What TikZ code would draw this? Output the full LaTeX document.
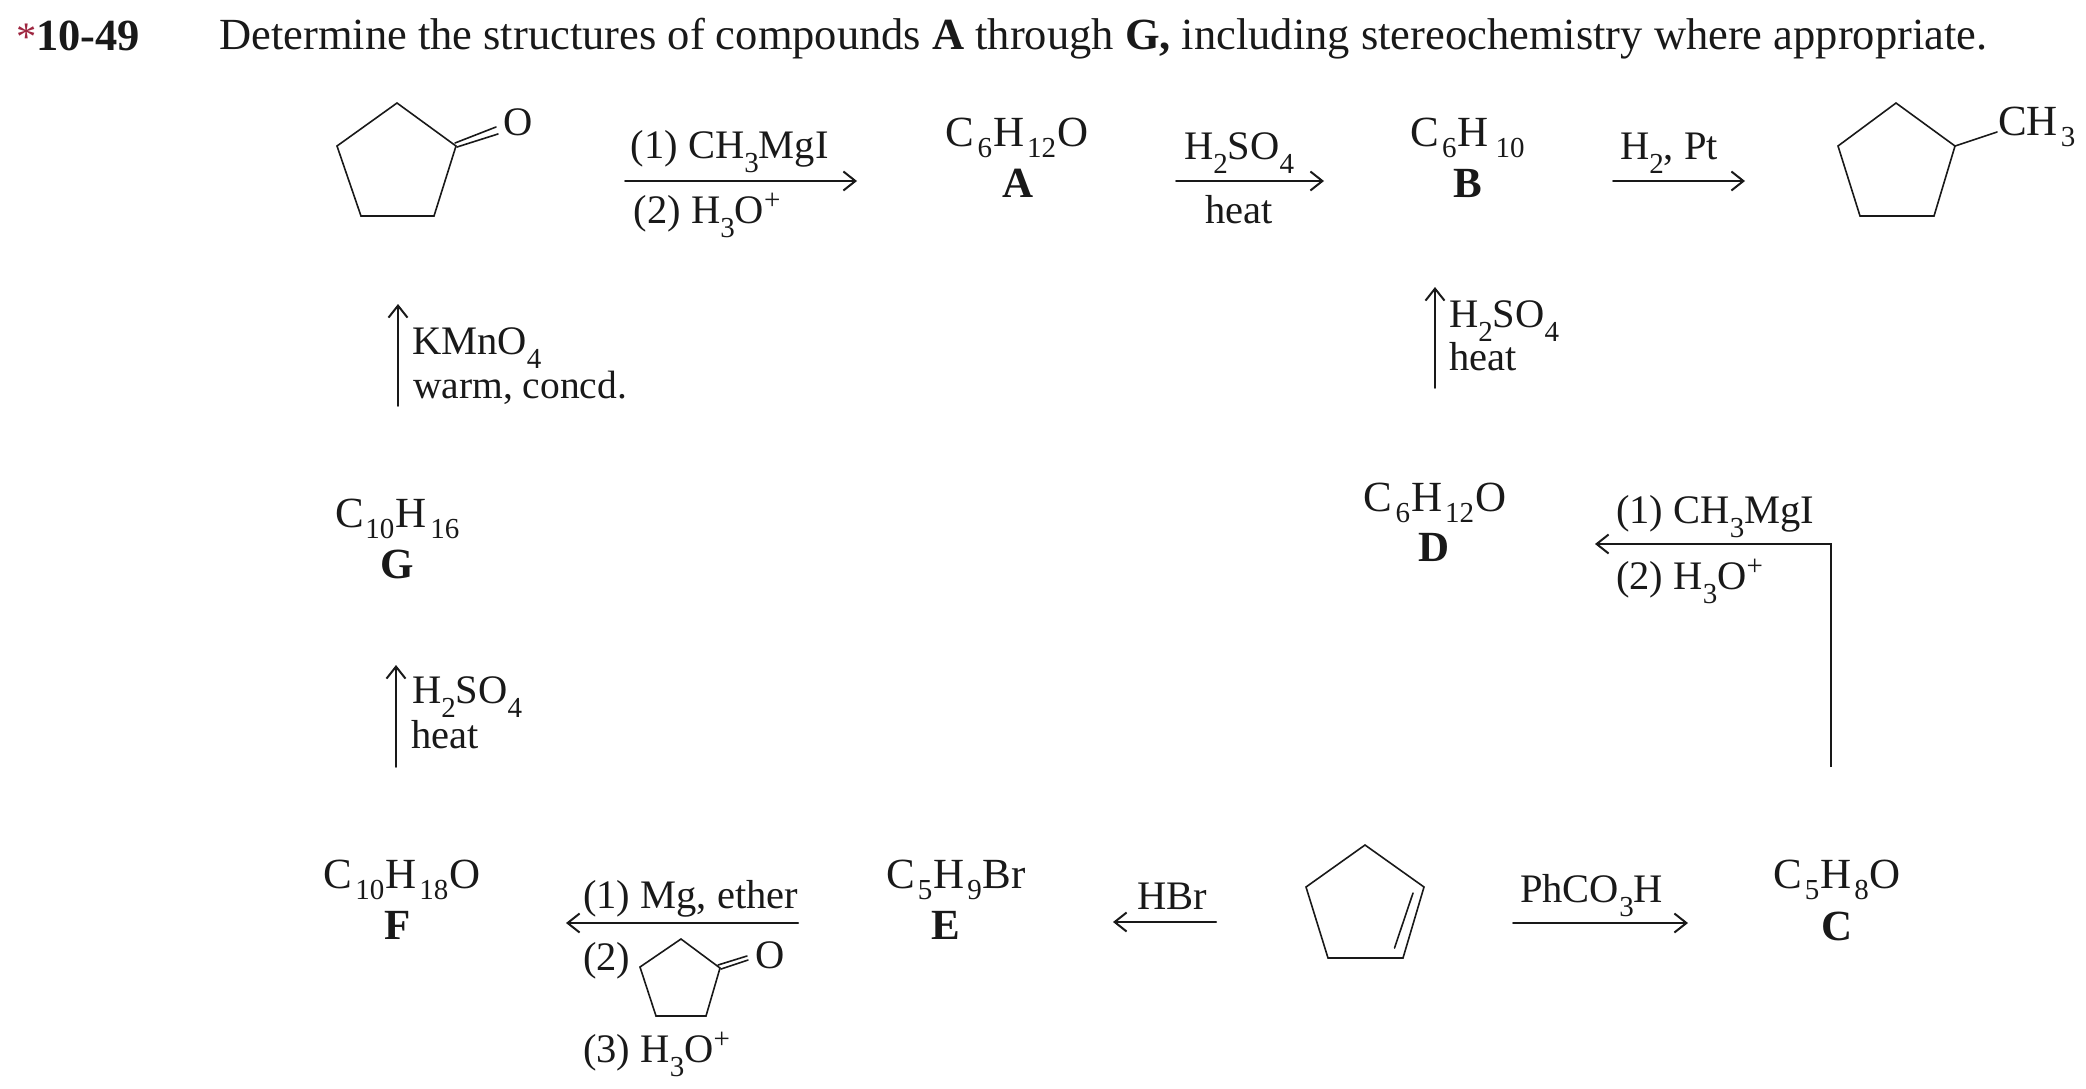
\documentclass[tikz,border=0pt]{standalone}
\usepackage{fontspec}
\setmainfont{Liberation Serif}
\usepackage{tkz-euclide}
\usetikzlibrary{arrows.meta}
\definecolor{InkClr}{rgb}{0.1,0.1,0.1}
\definecolor{StarClr}{rgb}{0.62,0.15,0.25}
\newcommand{\Sb}[1]{\raisebox{-14pt}{\fontsize{29}{29}\selectfont #1}}
\newcommand{\Fb}[1]{\kern3pt\raisebox{-11pt}{\fontsize{29}{29}\selectfont #1}\kern1pt}
\newcommand{\Sp}[1]{\raisebox{14pt}{\fontsize{29}{29}\selectfont #1}}
\tikzset{
  txt/.style={inner sep=0pt,anchor=base west,text=InkClr,font=\fontsize{40.5}{50}\selectfont},
  fml/.style={txt,anchor=base,font=\fontsize{43}{50}\selectfont},
  lbl/.style={txt,anchor=base,font=\fontsize{43}{50}\selectfont\bfseries},
  rxn/.style={color=InkClr,line width=2pt,-{Straight Barb[length=12pt,width=19pt,line width=2pt]}},
  rxnup/.style={rxn,line width=1.5pt},
  bond/.style={color=InkClr,line width=1.6pt,line join=miter}
}

\begin{document}
\begin{tikzpicture}[x=1pt,y=-1pt]
\useasboundingbox (0,0) rectangle (2086,1088);

\tkzDefPoints{397/103/ka,337/146/kb,361/216/kc,434/216/kd,456/146/ke}
\tkzDefPoints{1896/103/ma,1838/146/mb,1860/216/mc,1934/216/md,1955/146/me,1997/132/mf}
\tkzDefPoints{1365/845/ea,1306/887/eb,1328/958/ec,1403/958/ed,1424/887/ee}
\tkzDefPoints{681/939/sa,640/967/sb,656/1016/sc,706/1016/sd,720/968/se}
% carbonyl and inner alkene lines
\tkzDefPoints{455/143/ko,496/127/kp,457/147/kq,498/134/kr}
\tkzDefPoints{718/965/so,747/956/sp,721/969/sq,748/960/sr}
\tkzDefPoints{1413/893/ei,1394.5/948/ej}
% arrow ends
\tkzDefPoints{625/181/ab1,857/181/ab2,1176/181/bc1,1324/181/bc2,1613/181/pt1,1745/181/pt2}
\tkzDefPoints{398/406/kmn1,398/304/kmn2,1435/388/db1,1435/287/db2,396/767/fg1,396/665/fg2}
\tkzDefPoints{1831/767/cd1,1831/544/cd2,1595/544/cd3}
\tkzDefPoints{798/923/ef1,566/923/ef2,1216/922/hbr1,1113/922/hbr2,1513/923/per1,1688/923/per2}

\tkzDrawPolygon[bond](ka,kb,kc,kd,ke)
\tkzDrawPolygon[bond](ma,mb,mc,md,me)
\tkzDrawPolygon[bond](ea,eb,ec,ed,ee)
\tkzDrawPolygon[bond](sa,sb,sc,sd,se)
\tkzDrawSegments[bond](ko,kp kq,kr so,sp sq,sr ei,ej me,mf)

\tkzDrawSegments[rxn](ab1,ab2 bc1,bc2 pt1,pt2 ef1,ef2 hbr1,hbr2 per1,per2)
\tkzDrawSegments[rxnup](kmn1,kmn2 db1,db2 fg1,fg2)
\draw[rxnup] (cd1) -- (cd2) -- (cd3);

\node[txt,text=StarClr] (star) at (16,50) {*};
\node[txt,font=\fontsize{44.5}{50}\selectfont\bfseries] (num) at (36,50) {10-49};
\node[txt,font=\fontsize{44.5}{50}\selectfont] (title) at (219,49) {Determine the structures of compounds \textbf{A} through \textbf{G,} including stereochemistry where appropriate.};

\node[txt] (ko1) at (503,135) {O};
\node[txt,font=\fontsize{43}{50}\selectfont] (mech) at (1998,135) {CH\Fb{3}};
\node[txt] (so1) at (755,968) {O};

\node[fml] (fA) at (1017,146) {C\Fb{6}H\Fb{12}O};
\node[lbl] (A) at (1018,197) {A};
\node[fml] (fB) at (1468,146) {C\Fb{6}H\kern4pt\Fb{10}};
\node[lbl] (B) at (1468,197) {B};
\node[fml] (fC) at (1837,888) {C\Fb{5}H\Fb{8}O};
\node[lbl] (C) at (1837,940) {C};
\node[fml] (fD) at (1435,511) {C\Fb{6}H\Fb{12}O};
\node[lbl] (D) at (1434,561) {D};
\node[fml] (fE) at (956,888) {C\Fb{5}H\Fb{9}Br};
\node[lbl] (E) at (946,939) {E};
\node[fml] (fF) at (402,888) {C\Fb{10}H\Fb{18}O};
\node[lbl] (F) at (398,939) {F};
\node[fml] (fG) at (398,527) {C\kern-2pt\Fb{10}H\kern1pt\Fb{16}};
\node[lbl] (G) at (397,578) {G};

\node[txt] (r1a) at (630.5,158) {(1) CH\Sb{3}MgI};
\node[txt] (r1b) at (633.5,223) {(2) H\Sb{3}O\Sp{+}};
\node[txt] (r2a) at (1184,159) {H\Sb{2}SO\Sb{4}};
\node[txt] (r2b) at (1205,223) {heat};
\node[txt] (r3) at (1620,159) {H\Sb{2}, Pt};
\node[txt] (r4a) at (412,354) {KMnO\Sb{4}};
\node[txt,font=\fontsize{39.5}{50}\selectfont] (r4b) at (413,398) {warm, concd.};
\node[txt] (r5a) at (1449,327) {H\Sb{2}SO\Sb{4}};
\node[txt] (r5b) at (1449,370) {heat};
\node[txt] (r6a) at (1616,523) {(1) CH\Sb{3}MgI};
\node[txt] (r6b) at (1616,589) {(2) H\Sb{3}O\Sp{+}};
\node[txt] (r7a) at (412,703) {H\Sb{2}SO\Sb{4}};
\node[txt] (r7b) at (411,748) {heat};
\node[txt] (r8a) at (583,908) {(1) Mg, ether};
\node[txt] (r8b) at (583,970) {(2)};
\node[txt] (r8c) at (583,1062) {(3) H\Sb{3}O\Sp{+}};
\node[txt] (r9) at (1137,909) {HBr};
\node[txt] (r10) at (1520,902) {PhCO\Sb{3}H};
\end{tikzpicture}
\end{document}
